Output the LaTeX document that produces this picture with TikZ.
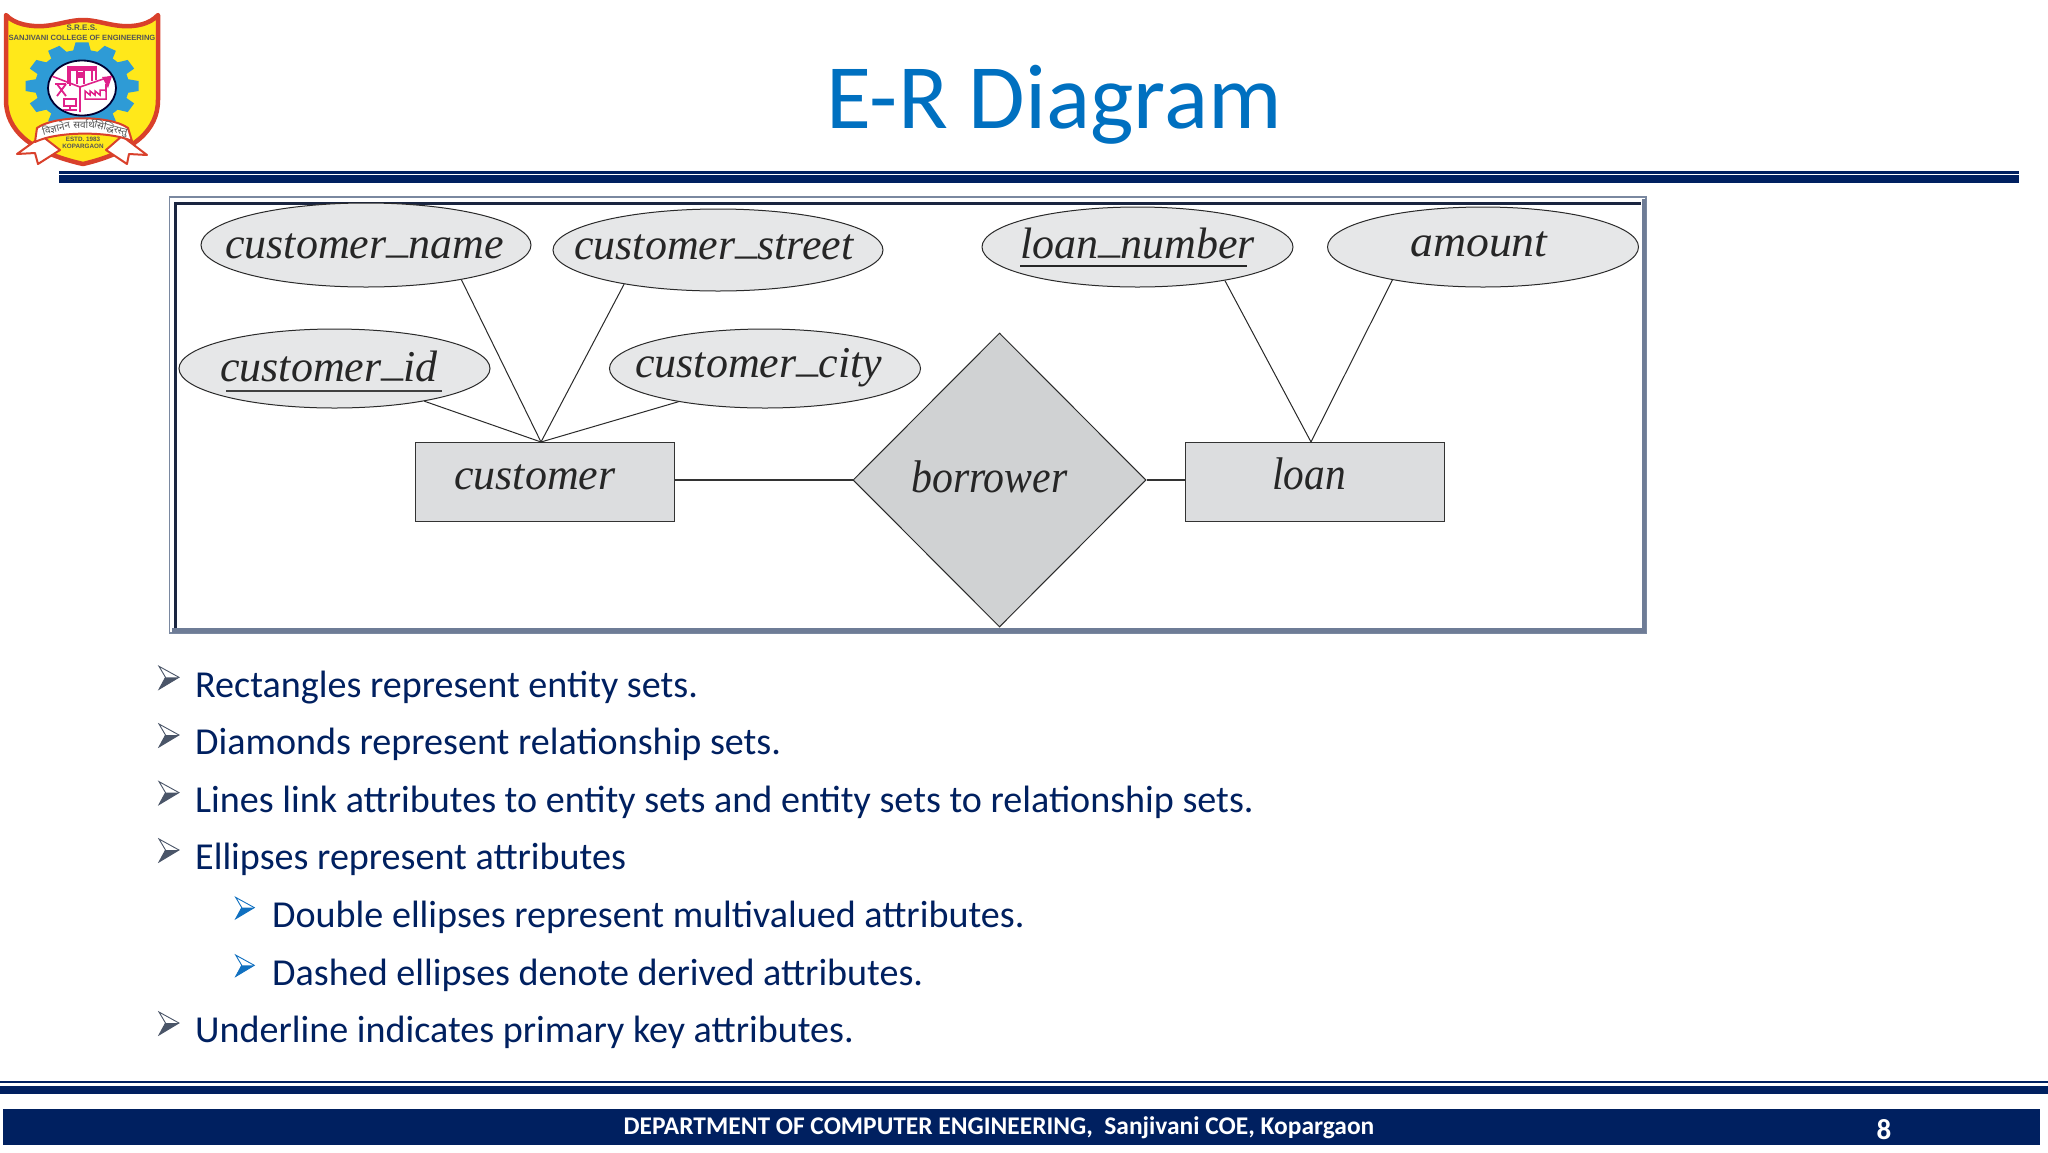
\documentclass[tikz,border=0pt]{standalone}
\usepackage{fontspec}
\usetikzlibrary{shapes.geometric}
\setmainfont{Carlito}
\newfontfamily\erfont{Liberation Serif}
\newfontfamily\logofont{Liberation Sans}
\newfontfamily\devafont[Script=Devanagari]{Noto Sans}
\definecolor{navy}{HTML}{002060}
\definecolor{titleblue}{HTML}{0070C0}
\definecolor{bulgray}{HTML}{4A5568}
\definecolor{bulblue}{HTML}{1070C0}
\definecolor{ellfill}{HTML}{E6E7E8}
\definecolor{recfill}{HTML}{DCDDDF}
\definecolor{diafill}{HTML}{D0D2D3}
\definecolor{erline}{HTML}{2A2A2A}
\definecolor{recline}{HTML}{333333}
\definecolor{frameout}{HTML}{7A88A0}
\definecolor{framein}{HTML}{6E7C96}
\definecolor{framedark}{HTML}{1A2540}
\definecolor{logored}{HTML}{D9402B}
\definecolor{logoyellow}{HTML}{FFE81A}
\definecolor{logoblue}{HTML}{2E9BD6}
\definecolor{logopink}{HTML}{E0218A}
\definecolor{logotext}{HTML}{555555}
\newcommand\erus{\raisebox{6pt}{\_}}
\tikzset{
  x=1pt,y=-1pt,
  attr/.style={ellipse,draw=erline,line width=1pt,fill=ellfill,inner sep=0pt},
  entity/.style={rectangle,draw=recline,line width=1pt,fill=recfill,inner sep=0pt,minimum width=259pt,minimum height=79pt},
  rel/.style={diamond,draw=erline,line width=1pt,fill=diafill,inner sep=0pt,minimum width=293pt,minimum height=294pt},
  conn/.style={draw=erline,line width=1pt},
  connthick/.style={draw=recline,line width=1.5pt},
  ertext/.style={anchor=base west,inner sep=0pt,text=black!85,font=\erfont\itshape\fontsize{44}{48}\selectfont},
  bultext/.style={anchor=base west,inner sep=0pt,text=navy,font=\fontsize{38.1}{42}\selectfont},
  logolab/.style={inner sep=0pt,text=logotext,font=\logofont\bfseries\fontsize{#1}{#1}\selectfont},
  pics/arrowbul/.style={code={
    \fill[white] (0,-11) -- (20,0) -- (6.5,0) -- cycle;
    \fill[#1] (6.5,0) -- (20,0) -- (0,12) -- cycle;
    \draw[#1,line width=.9pt,line join=miter] (6.5,0) -- (0,-11) -- (20,0) -- (0,12) -- cycle;
  }}
}
\begin{document}
\begin{tikzpicture}
\useasboundingbox (0,0) rectangle (2048,1152);
\fill[white] (0,0) rectangle (2048,1152);

% header and footer rules
\fill[navy] (59,171) rectangle (2019,173.5);
\fill[navy] (59,175) rectangle (2019,183);
\fill[navy] (0,1080.7) rectangle (2048,1083.3);
\fill[navy] (0,1086) rectangle (2048,1093.7);
\fill[navy] (2.6,1108.7) rectangle (2040,1144.7);
\node[anchor=base west,inner sep=0pt,text=white,font=\bfseries\fontsize{25.45}{27}\selectfont] (foot) at (623.5,1134) {DEPARTMENT OF COMPUTER ENGINEERING,\ \ Sanjivani COE, Kopargaon};
\node[anchor=base,inner sep=0pt,text=white,font=\bfseries\fontsize{29}{30}\selectfont] (pageno) at (1884,1139) {8};

% title
\node[anchor=base west,inner sep=0pt,text=titleblue,font=\fontsize{92}{96}\selectfont] (title) at (826,128) {E-R Diagram};

% logo
\fill[logoyellow,draw=logored,line width=4.5pt,line join=round]
  (6,15) .. controls (14,24) and (30,27) .. (44,26)
  .. controls (58,25) and (70,20) .. (83,20)
  .. controls (96,20) and (108,25) .. (122,26)
  .. controls (136,27) and (150,24) .. (158,15)
  -- (158,100) .. controls (158,130) and (134,152) .. (83,164)
  .. controls (30,152) and (6,130) .. (6,100) -- cycle;
\begin{scope}[shift={(82,86)},yscale=.77]
  \fill[logoblue] (0,0) circle[radius=47];
  \foreach \a in {0,30,...,330}
    \fill[logoblue,rotate=\a] (-9,45) -- (-6.5,56.5) -- (6.5,56.5) -- (9,45) -- cycle;
\end{scope}
\fill[white,draw=black!80!blue,line width=1.8pt] (82,88) ellipse[x radius=34,y radius=27.5];
\begin{scope}
  \clip (82,88) ellipse[x radius=33,y radius=26.5];
  \draw[logopink,line width=1.6pt] (49,75) -- (80,87) -- (112,76) (80,87) -- (80,112);
  \fill[logopink] (68,66) rectangle (95,71);
  \draw[logopink,line width=1.8pt] (70,70) -- (70,86) (77,71) -- (77,84) (84,71) -- (84,84) (92,71) -- (92,81) (68,66) -- (68,84) (96,66) -- (96,80);
  \fill[logopink] (76,72) rectangle (84,78);
  \draw[logopink,line width=1.5pt] (85,99) -- (85,91) -- (90,95) -- (90,91) -- (95,95) -- (95,91) -- (100,95) -- (100,90) -- (106,90) -- (106,99) -- cycle;
  \fill[logopink] (102,77) -- (112,76) -- (108,88) -- cycle;
  \draw[logopink,line width=1.5pt] (106,84) -- (106,92);
  \draw[logopink,line width=1.8pt] (57,84) -- (66,96) (66,84) -- (57,96) (55,84) -- (66,84);
  \draw[logopink,line width=1.6pt] (64,99) rectangle (76,106) (70,106) -- (70,110) (62,110) -- (77,110);
\end{scope}
\node[logolab=8] (lg1) at (82,28) {S.R.E.S.};
\node[logolab=7.6] (lg2) at (82,38) {SANJIVANI COLLEGE OF ENGINEERING};
% ribbon tails
\fill[white,draw=logored,line width=2pt,line join=round] (42,136) -- (17,154) -- (35,153) -- (38,164) -- (60,150) -- cycle;
\fill[white,draw=logored,line width=2pt,line join=round] (122,136) -- (147,155) -- (129,154) -- (127,164) -- (106,150) -- cycle;
% ribbon band
\fill[white,draw=logored,line width=2pt,line join=round] (37,128) .. controls (55,115) and (110,115) .. (128,128) -- (132,141)
  .. controls (110,131) and (57,131) .. (35,142) -- cycle;
\node[inner sep=0pt,text=logotext,rotate=14,font=\devafont\fontsize{10}{10}\selectfont] (lg3) at (56,128) {विज्ञानेन};
\node[inner sep=0pt,text=logotext,font=\devafont\fontsize{10}{10}\selectfont] (lg4) at (84,124.5) {सर्वार्थ};
\node[inner sep=0pt,text=logotext,rotate=-14,font=\devafont\fontsize{10}{10}\selectfont] (lg5) at (111,128.5) {सिद्धिरस्तु};
\node[logolab=6.3] (lg6) at (83,139) {ESTD. 1983};
\node[logolab=6.3] (lg7) at (83,146) {KOPARGAON};

% picture frame
\draw[frameout,line width=1.6pt] (169.5,197) rectangle (1646,633);
\fill[framein] (172,628) rectangle (1646,633);
\fill[framein] (1641.5,199) rectangle (1646,633);
\draw[framedark,line width=3pt] (175,628) -- (175,203) -- (1641,203);

% E-R nodes
\node[attr,minimum width=330pt,minimum height=84pt] (cname) at (366,245) {};
\node[attr,minimum width=330pt,minimum height=82pt] (cstreet) at (718,250) {};
\node[attr,minimum width=311pt,minimum height=79pt] (cid) at (334.5,368.5) {};
\node[attr,minimum width=311pt,minimum height=79pt] (ccity) at (765,368.5) {};
\node[attr,minimum width=311pt,minimum height=80pt] (lnum) at (1137.5,247) {};
\node[attr,minimum width=311pt,minimum height=80pt] (lamt) at (1483,247) {};
\node[entity] (customer) at (545,482) {};
\node[entity] (loan) at (1315,482) {};
\node[rel] (borrower) at (999.5,480) {};
\coordinate (cjoin) at (541,442);
\coordinate (ljoin) at (1311,442);
\coordinate (cright) at (customer.east |- borrower.west);
\coordinate (lleft) at (loan.west |- borrower.east);

% connectors
\draw[conn] (cname.-20) -- (cjoin);
\draw[conn] (cstreet.200) -- (cjoin);
\draw[conn] (cid.-20) -- (cjoin);
\draw[conn] (ccity.201) -- (cjoin);
\draw[conn] (lnum.-21) -- (ljoin);
\draw[conn] (lamt.200) -- (ljoin);
\draw[connthick] (cright) -- (borrower.west);
\draw[connthick] (borrower.east) -- (lleft);

% E-R labels
\node[ertext] (tname) at (225,258) {customer\erus name};
\node[ertext] (tstreet) at (574,259) {customer\erus street};
\node[ertext] (tid) at (220,381) {customer\erus id};
\node[ertext] (tcity) at (635,377) {customer\erus city};
\node[ertext] (tnum) at (1020,258) {loan\erus number};
\node[ertext] (tamt) at (1410,256) {\scalebox{1.04}[1]{amount}};
\node[ertext] (tcust) at (454,489) {customer};
\node[ertext] (tloan) at (1272,489) {\scalebox{.94}[1.04]{loan}};
\node[ertext] (tborr) at (911,492.5) {\scalebox{.95}[1.04]{borrower}};
\draw[black!75,line width=1.2pt] (226,391) -- (442,391);
\draw[black!85,line width=1.3pt] (1020,266) -- (1247,266);

% bullets
\pic at (159,677.3) {arrowbul=bulgray};
\pic at (159,735) {arrowbul=bulgray};
\pic at (159,792.6) {arrowbul=bulgray};
\pic at (159,850) {arrowbul=bulgray};
\pic[scale=.93] at (235.7,907.6) {arrowbul=bulblue};
\pic[scale=.93] at (235.7,965.3) {arrowbul=bulblue};
\pic at (159,1023) {arrowbul=bulgray};
\node[bultext] (b1) at (195,697) {Rectangles represent entity sets.};
\node[bultext] (b2) at (195,754.6) {Diamonds represent relationship sets.};
\node[bultext] (b3) at (195,812.2) {Lines link attributes to entity sets and entity sets to relationship sets.};
\node[bultext] (b4) at (195,869.8) {Ellipses represent attributes};
\node[bultext] (b5) at (272,927.3) {Double ellipses represent multivalued attributes.};
\node[bultext] (b6) at (272,985) {Dashed ellipses denote derived attributes.};
\node[bultext] (b7) at (195,1042.8) {Underline indicates primary key attributes.};
\end{tikzpicture}
\end{document}
